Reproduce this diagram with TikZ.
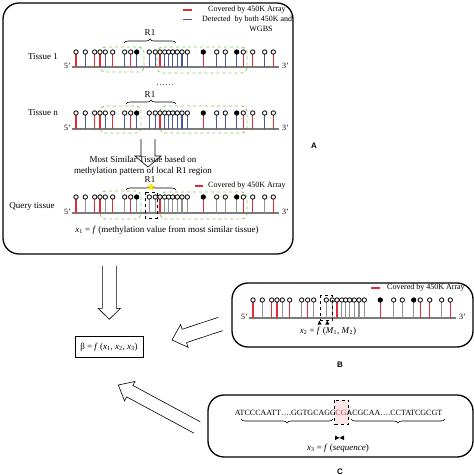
\documentclass[tikz,border=0pt]{standalone}
\usepackage{fontspec}
\setmainfont{Liberation Serif}
\newfontfamily\tagfont{Liberation Sans}
\usetikzlibrary{calc}
\usetikzlibrary{shapes.geometric}
\usetikzlibrary{decorations.pathreplacing}

\definecolor{stemred}{RGB}{225,45,55}
\definecolor{stemblue}{RGB}{75,85,160}
\definecolor{stemgrey}{RGB}{145,145,145}
\definecolor{boxgreen}{RGB}{135,200,95}

\tikzset{
	panel/.style={draw, line width=1.3pt, rounded corners=16pt},
	region/.style={draw=boxgreen, dashed, line width=0.9pt, rounded corners=5pt},
	backbone/.style={draw=stemgrey!85!black, line width=1.4pt},
	stem/.style={line width=1.2pt},
	cpg/.style={circle, draw, line width=0.8pt, inner sep=0pt, minimum size=4.4pt},
	txt/.style={font=\fontsize{9}{10}\selectfont, inner sep=0pt},
	small/.style={font=\fontsize{8}{9}\selectfont, inner sep=0pt},
	tag/.style={font=\tagfont\bfseries\fontsize{8}{9}\selectfont, inner sep=0pt},
	brace/.style={decorate, decoration={brace, amplitude=4pt}, line width=0.6pt},
}

\newcommand{\var}[2]{\textit{#1}\textsubscript{#2}}

% sites: x / stem colour / circle fill
\newcommand{\tissuesites}{76/stemred/white, 85.3/stemblue/white, 94.7/stemred/white, 100/stemred/white, 105.3/stemblue/white, 112.7/stemred/white, 124.7/stemblue/white, 130.7/stemred/white, 136.7/stemblue/black, 149.3/stemblue/white, 155.3/stemblue/white, 160/stemred/white, 164.7/stemblue/white, 168.7/stemblue/white, 172.7/stemblue/white, 177.3/stemblue/white, 182/stemblue/white, 187.3/stemblue/white, 203.3/stemred/black, 216.7/stemblue/white, 225.3/stemblue/white, 236.7/stemblue/black, 243.3/stemred/white, 252.7/stemred/white, 264.7/stemblue/white, 273.3/stemred/white}
\newcommand{\querysites}{76/stemred/white, 85.3/stemgrey/white, 94.7/stemred/white, 100/stemred/white, 105.3/stemgrey/white, 112.7/stemred/white, 124.7/stemgrey/white, 130.7/stemred/white, 136.7/stemgrey/black, 149.3/stemgrey/white, 155.3/stemgrey/white, 160/stemred/white, 164.7/stemgrey/white, 168.7/stemgrey/white, 172.7/stemgrey/white, 177.3/stemgrey/white, 182/stemgrey/white, 187.3/stemgrey/white, 203.3/stemred/black, 216.7/stemgrey/white, 225.3/stemgrey/white, 236.7/stemgrey/black, 243.3/stemred/white, 252.7/stemred/white, 264.7/stemgrey/white, 273.3/stemred/white}
\newcommand{\arraysites}{76/stemred/white, 85.3/stemgrey/white, 94.7/stemred/white, 100/stemred/white, 105.3/stemgrey/white, 112.7/stemred/white, 124.7/stemgrey/white, 130.7/stemred/white, 136.7/stemgrey/white, 149.3/stemgrey/white, 155.3/stemgrey/white, 160/stemred/white, 164.7/stemgrey/white, 168.7/stemgrey/white, 172.7/stemgrey/white, 177.3/stemgrey/white, 182/stemgrey/white, 187.3/stemgrey/white, 203.3/stemred/black, 216.7/stemgrey/white, 225.3/stemgrey/white, 236.7/stemgrey/black, 243.3/stemred/white, 252.7/stemred/white, 264.7/stemgrey/white, 273.3/stemred/white}

% shift, circle y, backbone y, sites, name
\newcommand{\siterow}[5]{%
	\draw[backbone] (#1+72,#3) -- (#1+279,#3);
	\node[small, anchor=east] (#5five) at (#1+71,#3-1.5) {5'};
	\node[small, anchor=west] (#5three) at (#1+282,#3-1.5) {3'};
	\foreach \px/\pc/\pf [count=\k] in #4 {
		\draw[stem, \pc] (\px+#1,#3) -- (\px+#1,#2+2.2);
		\node[cpg, fill=\pf] (#5-\k) at (\px+#1,#2) {};
	}
}

% from, to, shaft half width, head half width, head length
\newcommand{\hollowarrow}[5]{%
	\coordinate (hb) at ($(#2)!#5!(#1)$);
	\draw[line width=0.6pt] ($(#1)!#3!90:(#2)$) -- ($(hb)!#3!90:(#2)$) -- ($(hb)!#4!90:(#2)$) -- (#2) -- ($(hb)!#4!-90:(#2)$) -- ($(hb)!#3!-90:(#2)$) -- ($(#1)!#3!-90:(#2)$);
}

\begin{document}
\begin{tikzpicture}[x=1pt, y=-1pt]
	\useasboundingbox (0,0) rectangle (474,475);

	% panel A
	\draw[stem, stemred] (183,10) -- (192,10);
	\node[small, anchor=west] (legA1) at (208,10) {Covered by 450K Array};
	\draw[stem, stemblue] (183,19.5) -- (192,19.5);
	\node[small, anchor=west] (legA2) at (202,19.5) {Detected\ \ by both 450K and};
	\node[small] (legA3) at (261,29) {WGBS};

	\node[txt] (tis1) at (43,57) {Tissue 1};
	\draw[region] (100,47) rectangle (144,72);
	\draw[region] (157,47) rectangle (247,73);
	\draw[brace] (124,43) -- (176,43);
	\node[txt] (r1a) at (150,33) {R1};
	\siterow{0}{52}{67}{\tissuesites}{ta}

	\node[small] (gap) at (165,85) {.\kern1pt.\kern1pt.\kern1pt.\kern1pt.\kern1pt.};

	\node[txt] (tisn) at (43,113) {Tissue n};
	\draw[region] (100,106) rectangle (141,133);
	\draw[region] (160,106) rectangle (247,133);
	\draw[brace] (126,104) -- (176,104);
	\node[txt] (r1b) at (150,95) {R1};
	\siterow{0}{113}{129}{\tissuesites}{tb}

	\coordinate (simtop) at (148,139);
	\coordinate (simtip) at (148,167);
	\hollowarrow{simtop}{simtip}{7pt}{13pt}{11pt}
	\node[txt] (sim1) at (143,159) {Most Similar Tissue based on};
	\node[txt] (sim2) at (143,171) {methylation pattern of local R1 region};

	\node[txt] (r1q) at (150,180) {R1};
	\draw[brace] (126,190) -- (176,190);
	\draw[stem, stemred] (195,186) -- (203,186);
	\node[small, anchor=west] (legQ) at (208,186) {Covered by 450K Array};
	\node[txt] (query) at (32,206) {Query tissue};
	\draw[region] (100,191) rectangle (141,219);
	\draw[region] (160,192) rectangle (247,219);
	\siterow{0}{197}{213}{\querysites}{tq}
	\draw[dashed, line width=0.7pt] (145,192) rectangle (157,218);
	\node[star, star points=5, star point ratio=2.2, fill=yellow, draw=yellow!70!orange, minimum size=7pt, inner sep=0pt] (pin) at (151,187) {};
	\node[txt] (x1) at (167,230) {\var{x}{1} = \textit{f} (methylation value from most similar tissue)};

	\draw[panel] (3,3) rectangle (293,254);
	\node[tag] (tagA) at (314,146) {A};

	% panel B
	\draw[panel] (232,283) rectangle (473,347);
	\draw[stem, stemred] (371,288) -- (380,288);
	\node[small, anchor=west] (legB) at (387,288) {Covered by 450K Array};
	\siterow{177}{300}{318}{\arraysites}{bb}
	\draw[dashed, line width=0.7pt] (320.5,295) rectangle (332,320);
	\fill (317.5,324.5) -- (321.5,324.5) -- (319.5,320.5) -- cycle;
	\fill (325.3,324.5) -- (329.3,324.5) -- (327.3,320.5) -- cycle;
	\node[txt] (x2) at (328,331) {\var{x}{2} = \textit{f} (\var{M}{1}, \var{M}{2})};
	\node[tag] (tagB) at (340,365) {B};

	% panel C
	\draw[panel] (208,395) rectangle (473,457);
	\fill[stemred!12] (334.5,400) rectangle (348.5,424);
	\node[font=\fontsize{8}{9}\selectfont, inner sep=0pt] (seq) at (338.5,412.5) {ATCCCAATT\ldots.GGTGCAGC\textcolor{stemred}{CG}ACGCAA\ldots.CCTATCGCGT};
	\draw[dashed, line width=0.7pt] (334.5,400) rectangle (348.5,424);
	\draw[brace] (333,419) -- (241,419);
	\draw[brace] (445,419) -- (351,419);
	\fill (335,435.5) -- (335,440) -- (339.5,437.8) -- cycle;
	\fill (344,435.5) -- (344,440) -- (339.5,437.8) -- cycle;
	\node[txt] (x3) at (338,448) {\var{x}{3} = \textit{f} (\textit{sequence})};
	\node[tag] (tagC) at (340,472) {C};

	% combination
	\node[draw, line width=0.9pt, minimum width=68pt, minimum height=20.5pt, inner sep=0pt, font=\fontsize{9}{10}\selectfont] (beta) at (109,347) {β = \textit{f} (\var{x}{1}, \var{x}{2}, \var{x}{3})};
	\coordinate (aout) at (109.3,266);
	\coordinate (ain) at (109.3,319.3);
	\hollowarrow{aout}{ain}{7pt}{11.2pt}{11pt}
	\coordinate (bout) at (220.5,324);
	\coordinate (bin) at (172,340);
	\hollowarrow{bout}{bin}{7pt}{12pt}{13pt}
	\coordinate (cout) at (197.2,427.5);
	\coordinate (cin) at (118.3,385);
	\hollowarrow{cout}{cin}{6.5pt}{11pt}{13pt}
\end{tikzpicture}
\end{document}
